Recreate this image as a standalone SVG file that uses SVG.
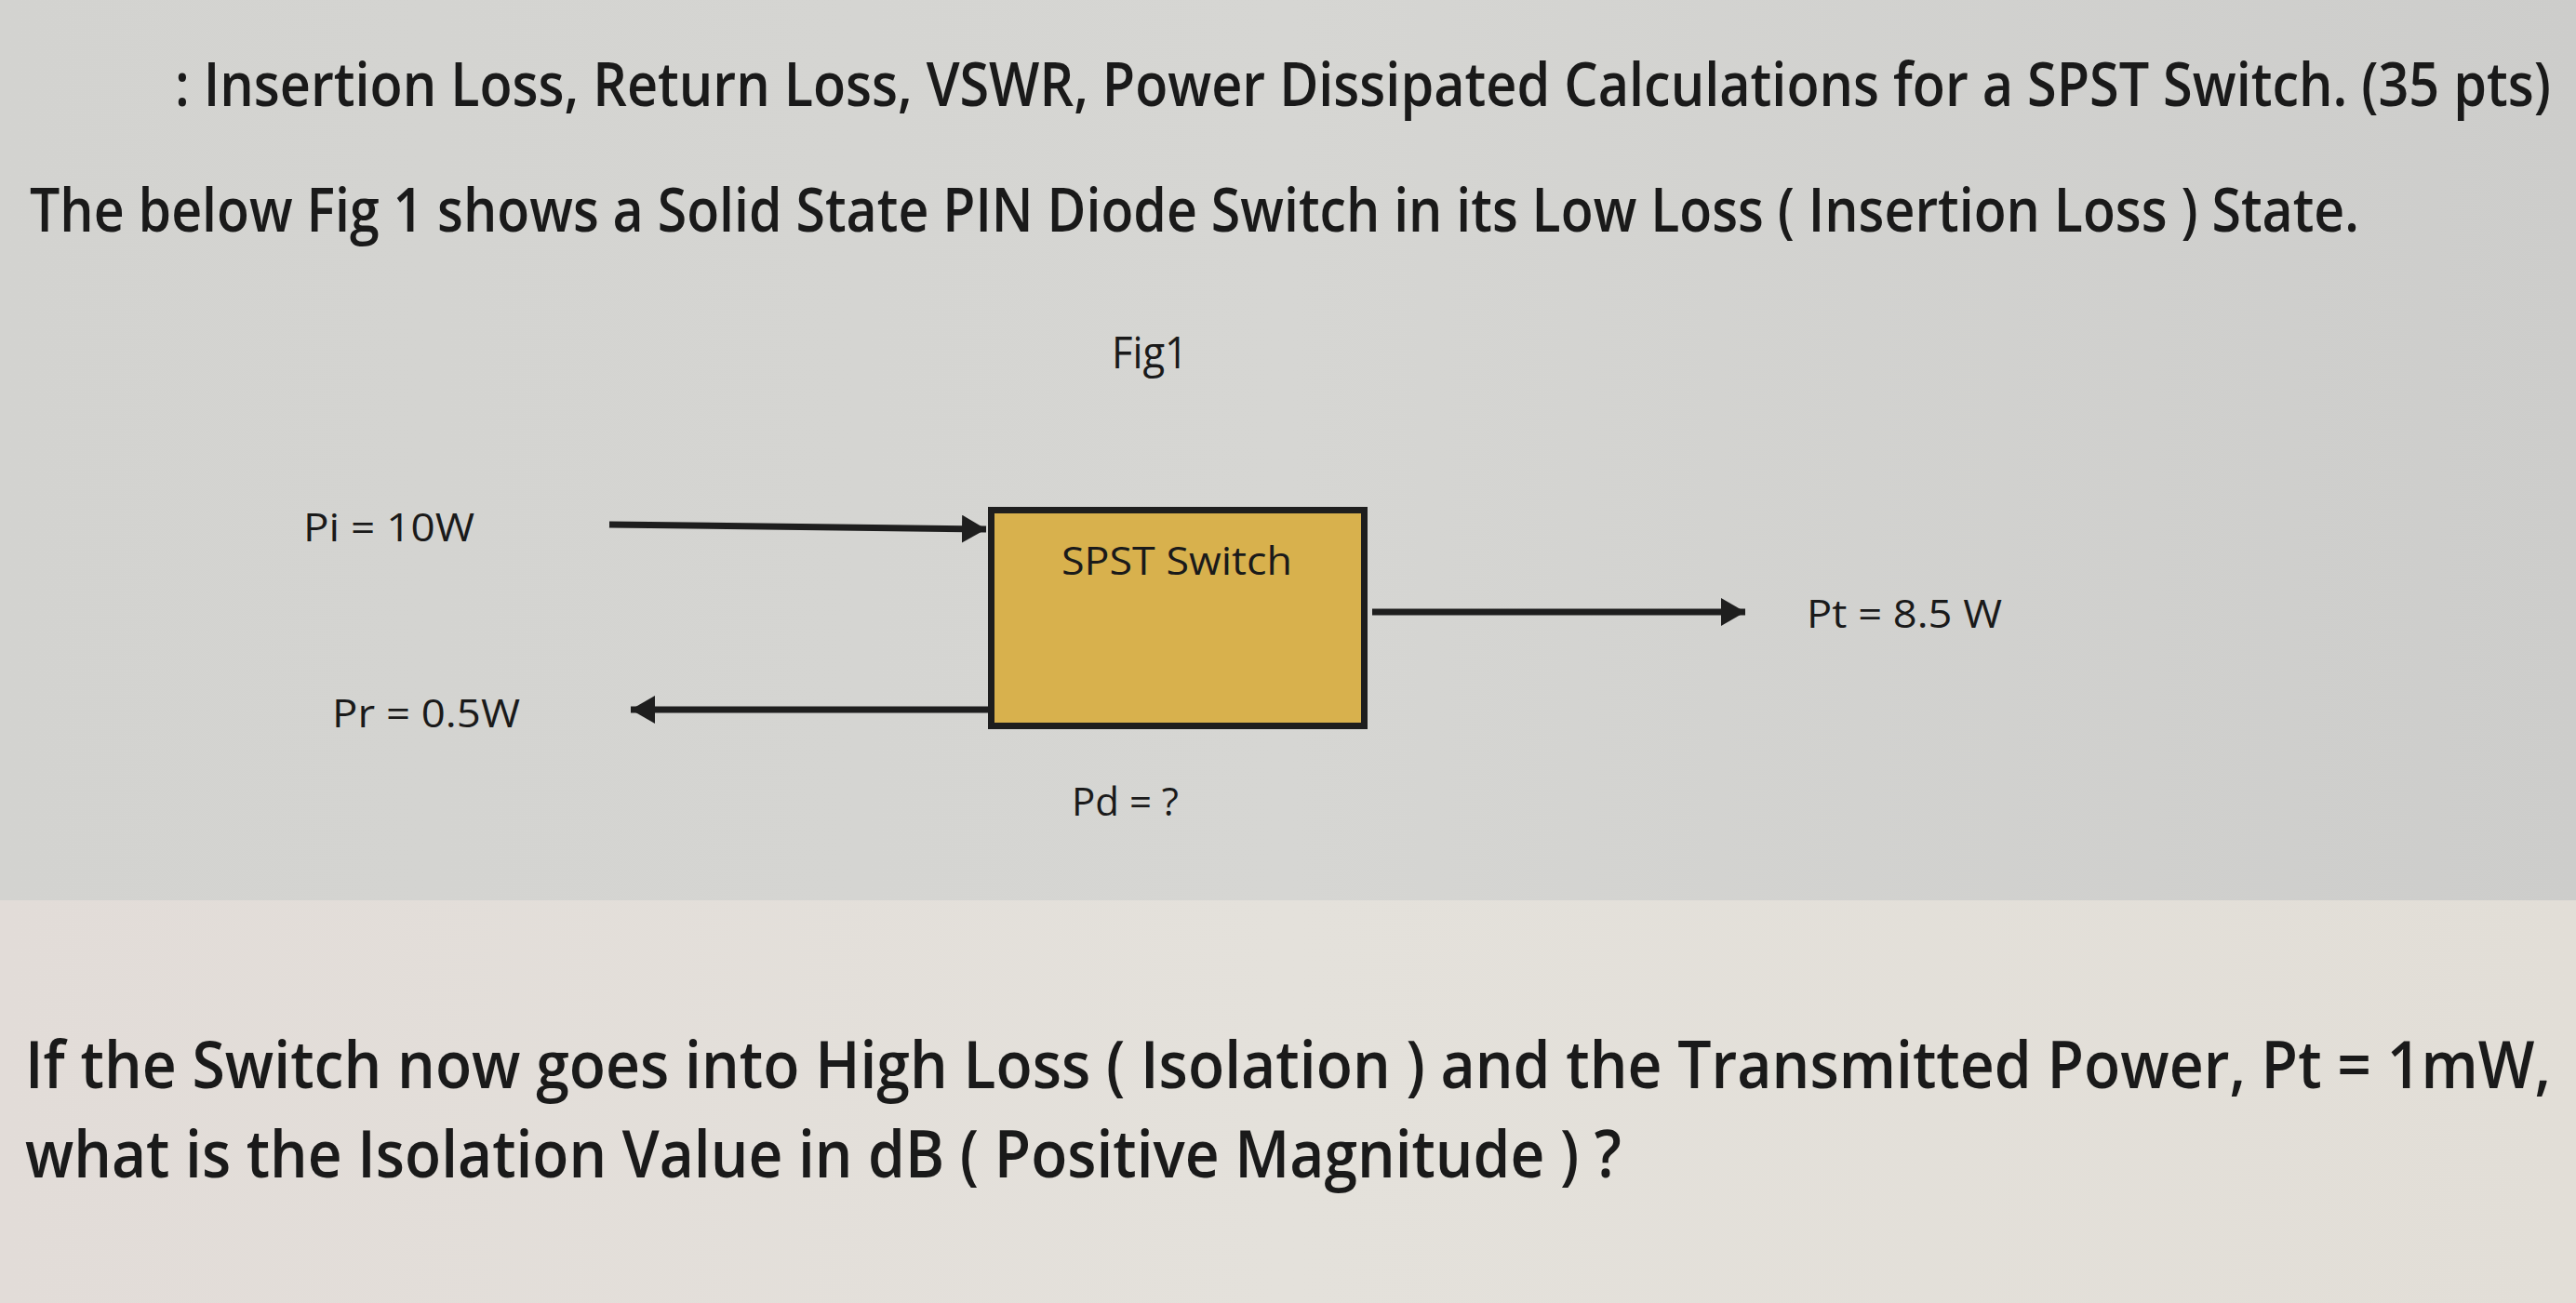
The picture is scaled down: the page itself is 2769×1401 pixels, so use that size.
<svg xmlns="http://www.w3.org/2000/svg" width="2769" height="1401" viewBox="0 0 2769 1401">
<defs>
<marker id="ah" markerUnits="userSpaceOnUse" markerWidth="26" markerHeight="30" refX="26" refY="15" orient="auto">
<polygon points="0,0 26,15 0,30" fill="#1e1e1e"/>
</marker>
<linearGradient id="topbg" x1="0" y1="0" x2="1" y2="0">
<stop offset="0" stop-color="#d3d3d0"/>
<stop offset="0.5" stop-color="#d6d6d3"/>
<stop offset="1" stop-color="#cdcdcb"/>
</linearGradient>
<linearGradient id="botbg" x1="0" y1="0" x2="1" y2="0">
<stop offset="0" stop-color="#e2dcd8"/>
<stop offset="0.5" stop-color="#e4e1db"/>
<stop offset="1" stop-color="#e2ded7"/>
</linearGradient>
</defs>
<style>
text{font-family:"Open Sans","Noto Sans","Liberation Sans",sans-serif;fill:#1a1a1a}
.big{font-size:49px;font-weight:600}
.q{font-size:57px;font-weight:600}
.lbl{font-size:42px;font-weight:500}
.fig{font-size:48px;font-weight:500}
.conn{stroke:#1e1e1e;stroke-width:7;fill:none}
</style>
<rect x="0" y="0" width="2769" height="968" fill="url(#topbg)"/>
<rect x="0" y="968" width="2769" height="433" fill="url(#botbg)"/>
<g id="header">
<text class="big" transform="translate(188,114) scale(1,1.347)" x="0" y="0" textLength="2554" lengthAdjust="spacingAndGlyphs">: Insertion Loss, Return Loss, VSWR, Power Dissipated Calculations for a SPST Switch. (35 pts)</text>
<text class="big" transform="translate(32,249) scale(1,1.347)" x="0" y="0" textLength="2504" lengthAdjust="spacingAndGlyphs">The below Fig 1 shows a Solid State PIN Diode Switch in its Low Loss ( Insertion Loss ) State.</text>
<text class="fig" x="1195" y="396" textLength="82" lengthAdjust="spacingAndGlyphs">Fig1</text>
</g>
<g id="connectors">
<line class="conn" x1="655" y1="564" x2="1060" y2="569" marker-end="url(#ah)"/>
<line class="conn" x1="1062" y1="763" x2="678" y2="763" marker-end="url(#ah)"/>
<line class="conn" x1="1475" y1="658" x2="1876" y2="658" marker-end="url(#ah)"/>
</g>
<g id="switch">
<rect x="1065.5" y="548.5" width="401" height="232" fill="#d8b14d" stroke="#1e1e1e" stroke-width="7"/>
<text class="lbl" x="1141" y="618" textLength="248" lengthAdjust="spacingAndGlyphs">SPST Switch</text>
</g>
<g id="pi">
<text class="lbl" x="326" y="582" textLength="184" lengthAdjust="spacingAndGlyphs">Pi = 10W</text>
</g>
<g id="pr">
<text class="lbl" x="357" y="782" textLength="202" lengthAdjust="spacingAndGlyphs">Pr = 0.5W</text>
</g>
<g id="pt">
<text class="lbl" x="1942" y="675" textLength="210" lengthAdjust="spacingAndGlyphs">Pt = 8.5 W</text>
</g>
<g id="pd">
<text class="lbl" x="1152" y="877" textLength="115" lengthAdjust="spacingAndGlyphs">Pd = ?</text>
</g>
<g id="question">
<text class="q" transform="translate(27,1170) scale(1,1.228)" x="0" y="0" textLength="2715" lengthAdjust="spacingAndGlyphs">If the Switch now goes into High Loss ( Isolation ) and the Transmitted Power, Pt = 1mW,</text>
<text class="q" transform="translate(27,1266) scale(1,1.228)" x="0" y="0" textLength="1716" lengthAdjust="spacingAndGlyphs">what is the Isolation Value in dB ( Positive Magnitude ) ?</text>
</g>
</svg>
